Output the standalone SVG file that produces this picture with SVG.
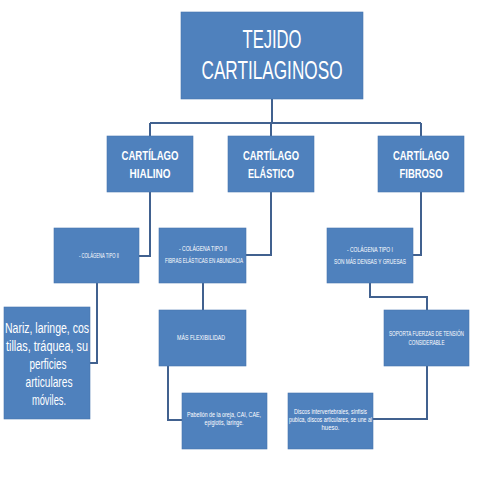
<svg xmlns="http://www.w3.org/2000/svg" width="480" height="480" viewBox="0 0 480 480">
<style>
.box{fill:#4F81BD;stroke:#4676B0;stroke-width:0.6}
.t{font-family:"Liberation Sans",Arial,sans-serif;fill:#ffffff;text-anchor:middle}
.big{font-size:25px}
.mid{font-size:13px;font-weight:bold}
.lg{font-size:14px}
.sm{font-size:7px}
.c{fill:none;stroke:#41618F;stroke-width:2}
</style>
<rect width="480" height="480" fill="#ffffff"/>
<g id="connectors">
<path class="c" d="M272,99V123M150,123H421M150,123V136M271,123V136M421,123V136"/>
<path class="c" d="M150,192V256H139"/>
<path class="c" d="M97,283V363H90"/>
<path class="c" d="M271,192V255H246"/>
<path class="c" d="M203,283V310"/>
<path class="c" d="M168,366V420H182"/>
<path class="c" d="M421,192V255H413"/>
<path class="c" d="M370,283V297H427V310"/>
<path class="c" d="M427,366V419H373"/>
</g>
<g id="n-title">
<rect class="box" x="181" y="12" width="182" height="87"/>
<text class="t big" x="272" y="48" textLength="59" lengthAdjust="spacingAndGlyphs">TEJIDO</text>
<text class="t big" x="272" y="79" textLength="141" lengthAdjust="spacingAndGlyphs">CARTILAGINOSO</text>
</g>
<g id="n-hialino">
<rect class="box" x="107" y="136" width="86" height="56"/>
<text class="t mid" x="150" y="160" textLength="57" lengthAdjust="spacingAndGlyphs">CARTÍLAGO</text>
<text class="t mid" x="150" y="178" textLength="41" lengthAdjust="spacingAndGlyphs">HIALINO</text>
</g>
<g id="n-elastico">
<rect class="box" x="228" y="136" width="86" height="56"/>
<text class="t mid" x="271" y="160" textLength="56" lengthAdjust="spacingAndGlyphs">CARTÍLAGO</text>
<text class="t mid" x="271" y="178" textLength="46" lengthAdjust="spacingAndGlyphs">ELÁSTICO</text>
</g>
<g id="n-fibroso">
<rect class="box" x="378" y="136" width="86" height="56"/>
<text class="t mid" x="421" y="160" textLength="56" lengthAdjust="spacingAndGlyphs">CARTÍLAGO</text>
<text class="t mid" x="421" y="178" textLength="43" lengthAdjust="spacingAndGlyphs">FIBROSO</text>
</g>
<g id="n-colagena-h">
<rect class="box" x="54" y="228" width="85" height="55"/>
<text class="t sm" x="99" y="258" textLength="40" lengthAdjust="spacingAndGlyphs">- COLÁGENA TIPO II</text>
</g>
<g id="n-nariz">
<rect class="box" x="4" y="307" width="86" height="112"/>
<text class="t lg" x="47" y="333" textLength="84" lengthAdjust="spacingAndGlyphs">Nariz, laringe, cos</text>
<text class="t lg" x="47" y="351" textLength="82" lengthAdjust="spacingAndGlyphs">tillas, tráquea, su</text>
<text class="t lg" x="48" y="369" textLength="37" lengthAdjust="spacingAndGlyphs">perficies</text>
<text class="t lg" x="49" y="387" textLength="47" lengthAdjust="spacingAndGlyphs">articulares</text>
<text class="t lg" x="49" y="405" textLength="34" lengthAdjust="spacingAndGlyphs">móviles.</text>
</g>
<g id="n-colagena-e">
<rect class="box" x="159" y="228" width="87" height="55"/>
<text class="t sm" x="203" y="251" textLength="48" lengthAdjust="spacingAndGlyphs">- COLÁGENA TIPO II</text>
<text class="t sm" x="204" y="263" textLength="78" lengthAdjust="spacingAndGlyphs">FIBRAS ELÁSTICAS EN ABUNDACIA</text>
</g>
<g id="n-flex">
<rect class="box" x="159" y="310" width="87" height="56"/>
<text class="t sm" x="201" y="340" textLength="48" lengthAdjust="spacingAndGlyphs">MÁS FLEXIBILIDAD</text>
</g>
<g id="n-pabellon">
<rect class="box" x="182" y="393" width="85" height="56"/>
<text class="t sm" x="224" y="417" textLength="74" lengthAdjust="spacingAndGlyphs">Pabellón de la oreja, CAI, CAE,</text>
<text class="t sm" x="224" y="425" textLength="39" lengthAdjust="spacingAndGlyphs">epiglotis, laringe.</text>
</g>
<g id="n-colagena-f">
<rect class="box" x="327" y="228" width="86" height="55"/>
<text class="t sm" x="370" y="252" textLength="46" lengthAdjust="spacingAndGlyphs">- COLÁGENA TIPO I</text>
<text class="t sm" x="370" y="264" textLength="72" lengthAdjust="spacingAndGlyphs">SON MÁS DENSAS Y GRUESAS</text>
</g>
<g id="n-soporta">
<rect class="box" x="384" y="310" width="85" height="56"/>
<text class="t sm" x="426.5" y="336" textLength="75" lengthAdjust="spacingAndGlyphs">SOPORTA FUERZAS DE TENSIÓN</text>
<text class="t sm" x="426.5" y="345" textLength="36" lengthAdjust="spacingAndGlyphs">CONSIDERABLE</text>
</g>
<g id="n-discos">
<rect class="box" x="288" y="393" width="85" height="56"/>
<text class="t sm" x="330.5" y="414" textLength="73" lengthAdjust="spacingAndGlyphs">Discos intervertebrales, sinfisis</text>
<text class="t sm" x="330.5" y="422" textLength="83" lengthAdjust="spacingAndGlyphs">pubica, discos articulares, se une al</text>
<text class="t sm" x="330.5" y="430" textLength="18" lengthAdjust="spacingAndGlyphs">hueso.</text>
</g>
</svg>
